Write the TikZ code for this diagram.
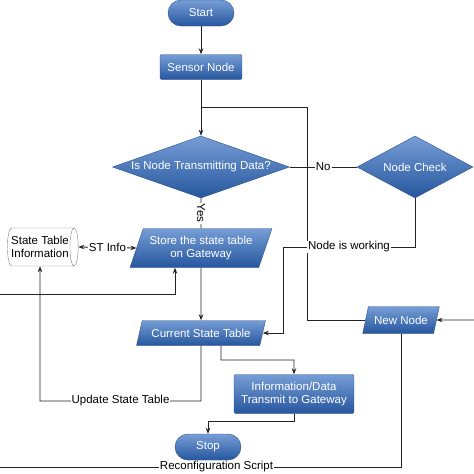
\documentclass[tikz,border=0pt]{standalone}
\usepackage{fontspec}
\setmainfont{Liberation Sans}
\usetikzlibrary{shapes.geometric,arrows.meta}

\definecolor{boxtop}{RGB}{118,158,214}
\definecolor{boxbot}{RGB}{38,86,158}
\definecolor{boxline}{RGB}{40,80,140}
\definecolor{wire}{RGB}{35,35,35}

\begin{document}
\begin{tikzpicture}[
  x=1pt, y=-1pt,
  font=\fontsize{11.5}{13}\selectfont,
  >={Stealth[length=6pt,width=4.5pt]},
  blue/.style = {draw=boxline, top color=boxtop, bottom color=boxbot, text=white, inner sep=1pt, align=center},
  terminal/.style = {blue, rectangle, rounded corners=13pt, minimum width=66pt, minimum height=26pt},
  process/.style = {blue, rectangle, rounded corners=2pt},
  decision/.style = {blue, diamond, inner sep=0pt, minimum height=62pt},
  io/.style = {blue, trapezium, trapezium left angle=65, trapezium right angle=115, trapezium stretches=true},
  store/.style = {cylinder, draw=gray, fill=white, text=black, aspect=0.35, align=center, minimum width=38pt, minimum height=64pt, inner sep=1pt},
  lbl/.style = {fill=white, inner sep=1pt, text=black},
  link/.style = {draw=wire, thick},
  ]
  \useasboundingbox (0,0) rectangle (474,474);

  % shapes
  \node[terminal] (start) at (201,13) {Start};
  \node[process, minimum width=82pt, minimum height=25pt] (sensor) at (201,67) {Sensor Node};
  \node[decision, aspect=2.85, minimum width=177pt] (dec) at (201,167) {Is Node Transmitting Data?};
  \node[decision, aspect=1.87, minimum width=116pt] (check) at (415,167) {Node Check};
  \node[io, minimum width=142pt, minimum height=39pt] (gw) at (201,248) {Store the state table\\on Gateway};
  \node[store] (st) at (40,247) {State Table\\Information};
  \node[io, minimum width=129pt, minimum height=25pt] (cur) at (201,333) {Current State Table};
  \node[io, minimum width=77pt, minimum height=27pt] (new) at (401,320) {New Node};
  \node[process, minimum width=120pt, minimum height=39pt] (info) at (294,394) {Information/Data\\Transmit to Gateway};
  \node[terminal] (stop) at (208,447) {Stop};

  % helper points
  \coordinate (split) at (201,107);
  \coordinate (bypass) at (307,107);
  \coordinate (work) at (283,247);
  \coordinate (feed) at (0,294);
  \coordinate (upd) at (201,401);
  \coordinate (tap) at (221,360);
  \coordinate (reconf) at (0,467);
  \coordinate (extra) at (474,320);

  % connectors
  \draw[link, ->] (start) -- (sensor);
  \draw[link, ->] (sensor) -- (dec);
  \draw[link] (split) -- (bypass) |- (new.west);
  \draw[link] (dec.east) -- node[lbl]{No} (check.west);
  \draw[link] (dec.south) -- node[lbl, rotate=-90]{Yes} (gw.north);
  \draw[link, <->] (st.east) -- node[lbl]{ST Info} (gw.west);
  \draw[link, ->] (feed) -| ([xshift=-26pt]gw.south);
  \draw[link, ->] (gw.south) -- (cur.north);
  \draw[link, ->] (check.south) |- node[lbl, pos=0.75]{Node is working} (work) |- (cur.east);
  \draw[link, ->] (cur.south) -- (upd) -| node[lbl, pos=0.25]{Update State Table} (st.south);
  \draw[link, ->] ([xshift=20pt]cur.south) -- (tap) -| (info.north);
  \draw[link, ->] (info.south) -- ++(0,8) -| (stop.north);
  \draw[link] (new.south) |- node[lbl, pos=0.73]{Reconfiguration Script} (reconf);
  \draw[link, ->] (extra) -- (new.east);
\end{tikzpicture}
\end{document}
